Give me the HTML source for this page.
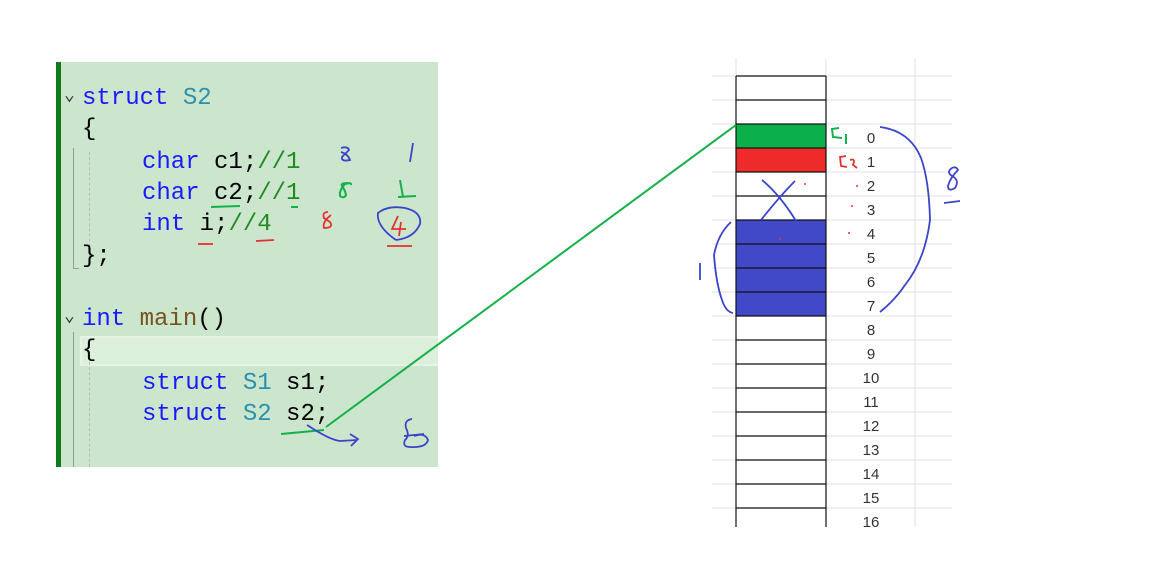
<!DOCTYPE html>
<html><head><meta charset="utf-8"><style>
html,body{margin:0;padding:0;background:#fff;width:1172px;height:579px;overflow:hidden;position:relative;font-family:"Liberation Sans",sans-serif}
.panel{position:absolute;left:56px;top:62px;width:382px;height:405px;background:#cce6cd;overflow:hidden}
.bar{position:absolute;left:0;top:0;width:5px;height:405px;background:#0f7b1a}
.hl{position:absolute;left:24px;top:274px;width:370px;height:26px;background:#dcefdb;border:2px solid #e6f3e5}
.l{position:absolute;font-family:"Liberation Mono",monospace;font-size:24px;line-height:28px;white-space:pre;color:#000}
.k{color:#1a1aff}.t{color:#2b91af}.c{color:#218a21}.f{color:#74531f}
.n{position:absolute;width:30px;text-align:center;font-size:15px;color:#333;left:856px}
</style></head><body>
<div class="panel">
<div class="bar"></div>
<div class="hl"></div>
<div style="position:absolute;left:17px;top:86px;width:1px;height:120px;background:#999"></div>
<div style="position:absolute;left:17px;top:206px;width:6px;height:1px;background:#999"></div>
<div style="position:absolute;left:17px;top:270px;width:1px;height:140px;background:#999"></div>
<div style="position:absolute;left:33px;top:90px;width:0;height:110px;border-left:1px dashed #bbb"></div>
<div style="position:absolute;left:33px;top:300px;width:0;height:110px;border-left:1px dashed #bbb"></div>
</div>
<div class="l" style="left:64px;top:82px;font-size:18px"><span style="color:#333">⌄</span></div>
<div class="l" style="left:82px;top:85px"><span class="k">struct</span> <span class="t">S2</span></div>
<div class="l" style="left:82px;top:116px">{</div>
<div class="l" style="left:142px;top:149px"><span class="k">char</span> c1;<span class="c">//1</span></div>
<div class="l" style="left:142px;top:180px"><span class="k">char</span> c2;<span class="c">//1</span></div>
<div class="l" style="left:142px;top:211px"><span class="k">int</span> i;<span class="c">//4</span></div>
<div class="l" style="left:82px;top:243px">};</div>
<div class="l" style="left:64px;top:303px;font-size:18px"><span style="color:#333">⌄</span></div>
<div class="l" style="left:82px;top:306px"><span class="k">int</span> <span class="f">main</span>()</div>
<div class="l" style="left:82px;top:337px">{</div>
<div class="l" style="left:142px;top:370px"><span class="k">struct</span> <span class="t">S1</span> s1;</div>
<div class="l" style="left:142px;top:401px"><span class="k">struct</span> <span class="t">S2</span> s2;</div>

<svg style="position:absolute;left:0;top:0" width="1172" height="579">
<g stroke="#e2e2e2" stroke-width="1">
<line x1="736" y1="58" x2="736" y2="527"/><line x1="826" y1="58" x2="826" y2="527"/><line x1="915" y1="58" x2="915" y2="527"/>
</g>
<g stroke="#e2e2e2">
<line x1="712" y1="76" x2="952" y2="76"/><line x1="712" y1="100" x2="952" y2="100"/>
<line x1="712" y1="124" x2="952" y2="124"/><line x1="712" y1="148" x2="952" y2="148"/>
<line x1="712" y1="172" x2="952" y2="172"/><line x1="712" y1="196" x2="952" y2="196"/>
<line x1="712" y1="220" x2="952" y2="220"/><line x1="712" y1="244" x2="952" y2="244"/>
<line x1="712" y1="268" x2="952" y2="268"/><line x1="712" y1="292" x2="952" y2="292"/>
<line x1="712" y1="316" x2="952" y2="316"/><line x1="712" y1="340" x2="952" y2="340"/>
<line x1="712" y1="364" x2="952" y2="364"/><line x1="712" y1="388" x2="952" y2="388"/>
<line x1="712" y1="412" x2="952" y2="412"/><line x1="712" y1="436" x2="952" y2="436"/>
<line x1="712" y1="460" x2="952" y2="460"/><line x1="712" y1="484" x2="952" y2="484"/>
<line x1="712" y1="508" x2="952" y2="508"/>
</g>
<rect x="736" y="124" width="90" height="24" fill="#0bb04b"/>
<rect x="736" y="148" width="90" height="24" fill="#ee2a2a"/>
<rect x="736" y="220" width="90" height="96" fill="#4149c8"/>
<g stroke="#111" stroke-width="1.2" fill="none">
<line x1="736" y1="76" x2="736" y2="527"/><line x1="826" y1="76" x2="826" y2="527"/>
<line x1="736" y1="76" x2="826" y2="76"/><line x1="736" y1="100" x2="826" y2="100"/>
<line x1="736" y1="124" x2="826" y2="124"/><line x1="736" y1="148" x2="826" y2="148"/>
<line x1="736" y1="172" x2="826" y2="172"/><line x1="736" y1="196" x2="826" y2="196"/>
<line x1="736" y1="220" x2="826" y2="220"/><line x1="736" y1="244" x2="826" y2="244"/>
<line x1="736" y1="268" x2="826" y2="268"/><line x1="736" y1="292" x2="826" y2="292"/>
<line x1="736" y1="316" x2="826" y2="316"/><line x1="736" y1="340" x2="826" y2="340"/>
<line x1="736" y1="364" x2="826" y2="364"/><line x1="736" y1="388" x2="826" y2="388"/>
<line x1="736" y1="412" x2="826" y2="412"/><line x1="736" y1="436" x2="826" y2="436"/>
<line x1="736" y1="460" x2="826" y2="460"/><line x1="736" y1="484" x2="826" y2="484"/>
<line x1="736" y1="508" x2="826" y2="508"/>
</g>
<g stroke="#14b04a" stroke-width="2" fill="none">
<line x1="736" y1="125" x2="326" y2="427"/>
<line x1="281" y1="434" x2="324" y2="430"/>
<line x1="211" y1="207" x2="240" y2="206"/>
<line x1="291" y1="207" x2="298" y2="207"/>
<line x1="398" y1="197" x2="416" y2="196"/>
<path d="M400 180 L403 197"/>
<path d="M839 128 L832 129 L833 137 L842 138 M846 134 L846 144"/>
<path d="M348 183 Q340 183 342 186 Q345 190 346 195 Q344 199 340 196 Q339 190 345 184 Q352 182 351 185"/>
</g>
<g stroke="#3b45c9" stroke-width="1.8" fill="none">
<path d="M307 425 Q330 440 340 441 L357 440 M350 434 L358 439 L351 446"/>
<path d="M412 419 Q404 420 406 428 Q410 436 405 440 Q402 447 410 447 Q426 448 428 440 Q425 432 414 436 M404 436 L424 434"/>
<path d="M396 240 Q376 226 378 213 Q388 205 405 208 Q422 212 420 224 Q414 238 396 240"/>
<path d="M341 148 Q348 146 349 150 L342 157 Q341 162 350 160 Q348 154 341 152"/>
<path d="M413 143 L410 162"/>
<path d="M880 127 Q910 131 921 158 Q929 180 930 220 Q925 260 905 285 Q895 300 880 312"/>
<path d="M952 168 Q946 172 952 176 Q960 180 955 188 Q948 192 948 186 Q950 178 958 170 Q956 166 952 168"/>
<path d="M944 203 L960 201"/>
<path d="M731 222 Q718 234 714 255 Q716 283 722 300 Q726 312 733 313"/>
<path d="M700 263 L700 280"/>
<path d="M762 180 Q780 195 796 221 M795 181 Q780 196 761 220"/>
</g>
<g stroke="#e83030" stroke-width="1.8" fill="none">
<line x1="198" y1="244" x2="213" y2="244"/>
<line x1="256" y1="241" x2="274" y2="240"/>
<line x1="387" y1="246" x2="412" y2="246"/>
<path d="M328 212 Q322 212 324 218 L330 222 Q334 228 324 228 Q322 222 331 215"/>
<path d="M398 216 L392 229 L406 229 M401 222 L399 236"/>
<path d="M846 156 L840 157 L841 166 L847 167 M850 160 Q856 158 853 165 L857 168"/>
</g>
<g fill="#e83030"><circle cx="857" cy="186" r="1"/><circle cx="852" cy="206" r="1"/><circle cx="849" cy="233" r="1"/><circle cx="805" cy="184" r="1"/><circle cx="780" cy="239" r="1"/></g>
</svg>
<div class="n" style="top:130px">0</div><div class="n" style="top:154px">1</div>
<div class="n" style="top:178px">2</div><div class="n" style="top:202px">3</div>
<div class="n" style="top:226px">4</div><div class="n" style="top:250px">5</div>
<div class="n" style="top:274px">6</div><div class="n" style="top:298px">7</div>
<div class="n" style="top:322px">8</div><div class="n" style="top:346px">9</div>
<div class="n" style="top:370px">10</div><div class="n" style="top:394px">11</div>
<div class="n" style="top:418px">12</div><div class="n" style="top:442px">13</div>
<div class="n" style="top:466px">14</div><div class="n" style="top:490px">15</div>
<div style="position:absolute;left:856px;top:514px;width:30px;height:13px;overflow:hidden;text-align:center;font-size:15px;color:#333">16</div>
</body></html>
